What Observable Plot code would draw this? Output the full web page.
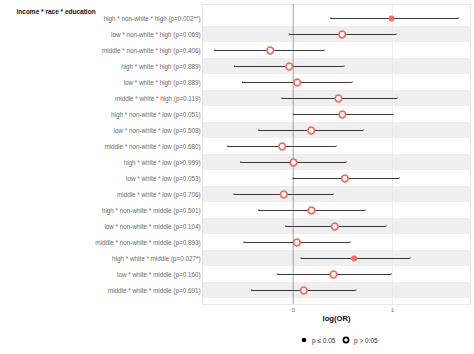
<!DOCTYPE html>
<html><head><meta charset="utf-8">
<script src="https://cdn.jsdelivr.net/npm/d3@7"></script>
<script src="https://cdn.jsdelivr.net/npm/@observablehq/plot@0.6"></script>
<style>
body{margin:0;background:#fff;font-family:"Liberation Sans",Arial,sans-serif;}
#wrap{position:relative;width:474px;}
#legend{position:relative;width:474px;height:28px;font-size:6.5px;color:#333;}
#legend span{position:absolute;top:50%;transform:translateY(-50%);white-space:nowrap;}
</style></head><body>
<div id="wrap"></div>
<div id="legend">
  <svg width="474" height="28" style="position:absolute;left:0;top:0">
    <circle cx="304" cy="14" r="2.3" fill="#000"/>
    <circle cx="346" cy="14" r="2.6" fill="#fff" stroke="#000" stroke-width="1.6"/>
  </svg>
  <span style="left:312px">p ≤ 0.05</span>
  <span style="left:354px">p &gt; 0.05</span>
</div>
<script>
const labels = [
  "high * non-white * high (p=0.002**)",
  "low * non-white * high (p=0.069)",
  "middle * non-white * high (p=0.406)",
  "high * white * high (p=0.889)",
  "low * white * high (p=0.889)",
  "middle * white * high (p=0.119)",
  "high * non-white * low (p=0.051)",
  "low * non-white * low (p=0.508)",
  "middle * non-white * low (p=0.680)",
  "high * white * low (p>0.999)",
  "low * white * low (p=0.053)",
  "middle * white * low (p=0.706)",
  "high * non-white * middle (p=0.501)",
  "low * non-white * middle (p=0.104)",
  "middle * non-white * middle (p=0.893)",
  "high * white * middle (p=0.027*)",
  "low * white * middle (p=0.160)",
  "middle * white * middle (p=0.691)"
];
const estimate = [0.99, 0.493, -0.232, -0.04, 0.04, 0.456, 0.496, 0.181, -0.111, 0.003, 0.52, -0.094, 0.184, 0.419, 0.037, 0.614, 0.406, 0.107];
const lower    = [0.379, -0.034, -0.789, -0.591, -0.51, -0.111, 0.003, -0.346, -0.658, -0.527, 0.0, -0.594, -0.346, -0.074, -0.494, 0.08, -0.155, -0.417];
const upper    = [1.665, 1.04, 0.315, 0.513, 0.594, 1.05, 1.007, 0.708, 0.433, 0.534, 1.07, 0.406, 0.725, 0.936, 0.574, 1.178, 0.99, 0.631];
const significant = [true,false,false,false,false,false,false,false,false,false,false,false,false,false,false,true,false,false];
const xDomain = [-0.913, 1.785];
const xTicks = [0, 1];
const title = "income * race * education";
const xLabel = "log(OR)";

const rows = labels.map((l, i) => ({label: l, est: estimate[i], lo: lower[i], hi: upper[i], sig: significant[i], shade: i % 2 === 1}));
const red = "#ee6e66";

const plot = Plot.plot({
  width: 474,
  height: 326,
  marginLeft: 202,
  marginRight: 4,
  marginTop: 4,
  marginBottom: 22,
  style: {fontFamily: "Liberation Sans, Arial, sans-serif", fontSize: "6.3px", color: "#6b6b6b", background: "#fff"},
  x: {domain: xDomain, ticks: xTicks, tickFormat: d3.format("d"), label: null, tickSize: 0, tickPadding: 4},
  y: {domain: labels, padding: 0, label: null, tickSize: 0, tickPadding: 2},
  marks: [
    Plot.cell(rows.filter(d => d.shade), {y: "label", fill: "#efefef"}),
    Plot.ruleX([1], {stroke: "#e6e6e6", strokeWidth: 0.6}),
    Plot.frame({stroke: "#e3e3e3", strokeWidth: 0.8}),
    Plot.ruleX([0], {stroke: "#9a9a9a", strokeWidth: 0.9}),
    Plot.ruleY(rows, {y: "label", x1: "lo", x2: "hi", stroke: "#3a3a3a", strokeWidth: 1.1}),
    Plot.tickX(rows, {y: "label", x: "lo", stroke: "#3a3a3a", strokeWidth: 1.1, inset: 7.6}),
    Plot.tickX(rows, {y: "label", x: "hi", stroke: "#3a3a3a", strokeWidth: 1.1, inset: 7.6}),
    Plot.dot(rows.filter(d => d.sig), {y: "label", x: "est", r: 3, fill: red, stroke: "none"}),
    Plot.dot(rows.filter(d => !d.sig), {y: "label", x: "est", r: 3.3, fill: "#fff", stroke: red, strokeWidth: 1.7}),
    Plot.axisY({tickSize: 0, tickPadding: 2, fontSize: 6.3, label: null, color: "#6b6b6b"}),
    Plot.axisX({ticks: xTicks, tickFormat: d3.format("d"), tickSize: 0, tickPadding: 3, fontSize: 6, label: null, color: "#777"}),
    Plot.text([xLabel], {frameAnchor: "bottom", dy: 16, fontWeight: "bold", fontSize: 7.6, fill: "#111", text: d => d}),
    Plot.text([title], {frameAnchor: "top-left", dx: -186, dy: 5, textAnchor: "start", fontWeight: "bold", fontSize: 6.5, fill: "#111", text: d => d})
  ]
});
document.getElementById("wrap").appendChild(plot);
</script>
</body></html>
